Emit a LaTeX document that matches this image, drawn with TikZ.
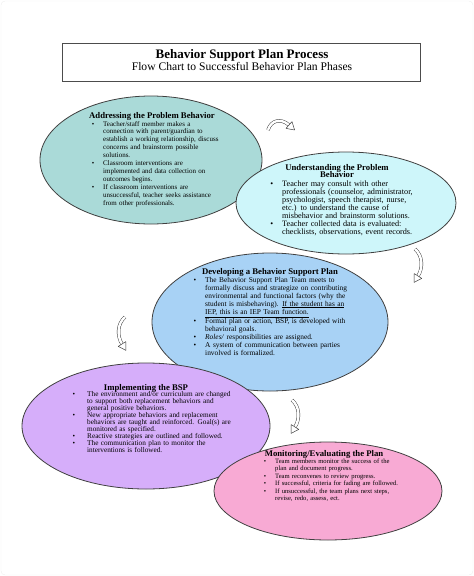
\documentclass[tikz,border=0pt]{standalone}
\usepackage{fontspec}
\setmainfont{Liberation Serif}
\usetikzlibrary{shapes.geometric}

\definecolor{addrfill}{RGB}{170,218,216}
\definecolor{understfill}{RGB}{206,246,250}
\definecolor{developfill}{RGB}{168,210,245}
\definecolor{implfill}{RGB}{214,174,250}
\definecolor{monitfill}{RGB}{248,170,212}

% bullet list used inside the ellipses
\newenvironment{bsplist}[1][9pt]{\begin{list}{\textbullet}{%
  \setlength{\labelwidth}{4pt}\setlength{\labelsep}{#1}%
  \setlength{\leftmargin}{\dimexpr#1+4pt\relax}%
  \setlength{\itemsep}{0pt}\setlength{\parsep}{0pt}%
  \setlength{\topsep}{0pt}\setlength{\partopsep}{0pt}}}{\end{list}}

\tikzset{
  phase/.style={ellipse, draw=black!75, line width=0.8pt, inner sep=0pt},
  phasehead/.style={anchor=base, inner sep=0pt, font=\bfseries\fontsize{8.7}{10}\selectfont},
  phasebody/.style={anchor=base west, inner sep=0pt, text width=190pt, align=left},
  turn/.style={draw=black!80, line width=0.45pt, double=white, double distance=2.4pt},
  turnhead/.style={draw=black!80, line width=0.45pt, fill=white, line join=round}
}

\begin{document}
\begin{tikzpicture}[x=1pt, y=-1pt]
\useasboundingbox (0,0) rectangle (474,576);
\draw[black!7, rounded corners=4pt] (1,1) rectangle (473,575);

% title
\node[draw=black!70, line width=0.7pt, minimum width=358pt, minimum height=38pt, inner sep=0pt] (titlebox) at (241.5,62.5) {};
\node[anchor=base, inner sep=0pt, font=\bfseries\fontsize{13}{15}\selectfont] (title) at (242,58.7) {Behavior Support Plan Process};
\node[anchor=base, inner sep=0pt, font=\fontsize{11.6}{13}\selectfont] (subtitle) at (242,70.7) {Flow Chart to Successful Behavior Plan Phases};

% the five phases
\node[phase, fill=addrfill, minimum width=222pt, minimum height=128pt] (addr) at (151,160) {};
\node[phase, fill=understfill, minimum width=220pt, minimum height=102pt] (underst) at (346,203) {};
\node[phase, fill=developfill, minimum width=236pt, minimum height=138pt] (develop) at (270,322) {};
\node[phase, fill=implfill, minimum width=248pt, minimum height=126pt] (impl) at (146,426) {};
\node[phase, fill=monitfill, minimum width=228pt, minimum height=98pt] (monit) at (328,491) {};

% Addressing
\node[phasehead] (addrhead) at (152,118.5) {Addressing the Problem Behavior};
\node[phasebody, font=\fontsize{7}{7.9}\selectfont] (addrbody) at (90,118.1) {\begin{bsplist}
\item Teacher/staff member makes a\\ connection with parent/guardian to\\ establish a working relationship, discuss\\ concerns and brainstorm possible\\ solutions.
\item Classroom interventions are\\ implemented and data collection on\\ outcomes begins.
\item If classroom interventions are\\ unsuccessful, teacher seeks assistance\\ from other professionals.
\end{bsplist}};

% Understanding
\node[phasehead] (understhead) at (337,170) {Understanding the Problem};
\node[phasehead] (understheadb) at (337,177.3) {Behavior};
\node[phasebody, font=\fontsize{8.2}{8.05}\selectfont] (understbody) at (269,177.95) {\begin{bsplist}
\item Teacher may consult with other\\ professionals (counselor, administrator,\\ psychologist, speech therapist, nurse,\\ etc.) to understand the cause of\\ misbehavior and brainstorm solutions.
\item Teacher collected data is evaluated:\\ checklists, observations, event records.
\end{bsplist}};

% Developing
\node[phasehead] (develophead) at (270,274.3) {Developing a Behavior Support Plan};
\node[phasebody, font=\fontsize{7.4}{7.97}\selectfont] (developbody) at (192,274.33) {\begin{bsplist}
\item The Behavior Support Plan Team meets to\\ formally discuss and strategize on contributing\\ environmental and functional factors (why the\\ student is misbehaving). \underline{If the student has an}\\ \underline{IEP, this is an IEP Team function.}
\item Formal plan or action, BSP, is developed with\\ behavioral goals.
\item \textit{Roles/} responsibilities are assigned.
\item A system of communication between parties\\ involved is formalized.
\end{bsplist}};

% Implementing
\node[phasehead] (implhead) at (146,390) {Implementing the BSP};
\node[phasebody, font=\fontsize{7.25}{7}\selectfont] (implbody) at (71,389.3) {\begin{bsplist}[12pt]
\item The environment and/or curriculum are changed\\ to support both replacement behaviors and\\ general positive behaviors.
\item New appropriate behaviors and replacement\\ behaviors are taught and reinforced. Goal(s) are\\ monitored as specified.
\item Reactive strategies are outlined and followed.
\item The communication plan to monitor the\\ interventions is followed.
\end{bsplist}};

% Monitoring
\node[phasehead] (monithead) at (324,456.7) {Monitoring/Evaluating the Plan};
\node[phasebody, font=\fontsize{6.6}{7.5}\selectfont] (monitbody) at (262,455.8) {\begin{bsplist}
\item Team members monitor the success of the\\ plan and document progress.
\item Team reconvenes to review progress.
\item If successful, criteria for fading are followed.
\item If unsuccessful, the team plans next steps,\\ revise, redo, assess, ect.
\end{bsplist}};

% curved arrows between the phases
\draw[turn] (268,130) .. controls (271,120) and (281,118) .. (289,125);
\filldraw[turnhead] (292,121.6) -- (294.6,130) -- (286,128.4) -- cycle;

\draw[turn] (415,249) .. controls (423,256) and (423,268) .. (418,276);
\filldraw[turnhead] (421.8,278.4) -- (414,282.4) -- (414.2,273.6) -- cycle;

\draw[turn] (125,317) .. controls (117,324) and (117,336) .. (122,344);
\filldraw[turnhead] (125.8,341.6) -- (126,350.4) -- (118.2,346.4) -- cycle;

\draw[turn] (292,400) .. controls (300,407) and (300,419) .. (295,427);
\filldraw[turnhead] (298.8,429.4) -- (291,433.4) -- (291.2,424.6) -- cycle;
\end{tikzpicture}
\end{document}
